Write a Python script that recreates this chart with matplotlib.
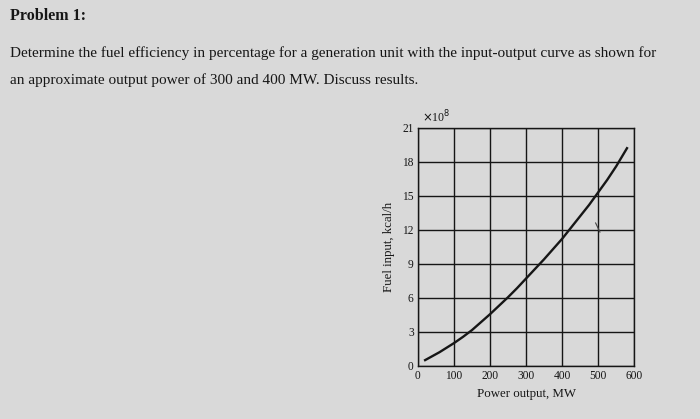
import numpy as np
import matplotlib.pyplot as plt

# input-output curve
power_mw = [20, 40, 60, 80, 100, 125, 150, 175, 200, 225, 250, 275, 300, 325, 350,
            375, 400, 425, 450, 475, 500, 525, 550, 580]
fuel_e8 = [0.5, 0.85, 1.2, 1.6, 2.0, 2.55, 3.15, 3.85, 4.55, 5.3, 6.05, 6.85, 7.7, 8.55, 9.4,
           10.3, 11.2, 12.2, 13.2, 14.2, 15.3, 16.4, 17.6, 19.2]

x_ticks = [0, 100, 200, 300, 400, 500, 600]
y_ticks = [0, 3, 6, 9, 12, 15, 18, 21]

bg = '#d9d9d9'
ink = '#161616'
plt.rcParams['font.family'] = ['Liberation Serif', 'DejaVu Serif']

fig = plt.figure(figsize=(7, 4.19), dpi=100, facecolor=bg)

# problem text
fig.text(0.014, 0.962, 'Problem 1:', fontsize=11.5, fontweight='bold', color=ink, va='center')
fig.text(0.014, 0.873, 'Determine the fuel efficiency in percentage for a generation unit with the input-output curve as shown for',
         fontsize=10.98, color=ink, va='center')
fig.text(0.014, 0.808, 'an approximate output power of 300 and 400 MW. Discuss results.',
         fontsize=10.98, color=ink, va='center')

ax = fig.add_axes([0.597, 0.127, 0.309, 0.568])
ax.set_facecolor(bg)
ax.plot(power_mw, fuel_e8, color=ink, lw=1.7)

ax.set_xlim(0, 600)
ax.set_ylim(0, 21)
ax.set_xticks(x_ticks)
ax.set_yticks(y_ticks)
ax.grid(True, color=ink, lw=1.0)
ax.tick_params(length=0, labelsize=8.3, colors=ink, pad=3)
for s in ax.spines.values():
    s.set_color(ink)
    s.set_linewidth(1.0)

ax.set_xlabel('Power output, MW', fontsize=9.3, color=ink, labelpad=4)
ax.set_ylabel('Fuel input, kcal/h', fontsize=9.3, color=ink, labelpad=5)
ax.text(0.02, 1.01, r'$\times$10$^8$', transform=ax.transAxes, fontsize=8.5, color=ink, va='bottom')

# little pen mark near (500, 12)
ax.plot([493, 505], [12.6, 11.8], color='#444444', lw=0.8)

fig.savefig('out.png', dpi=100, facecolor=bg)
